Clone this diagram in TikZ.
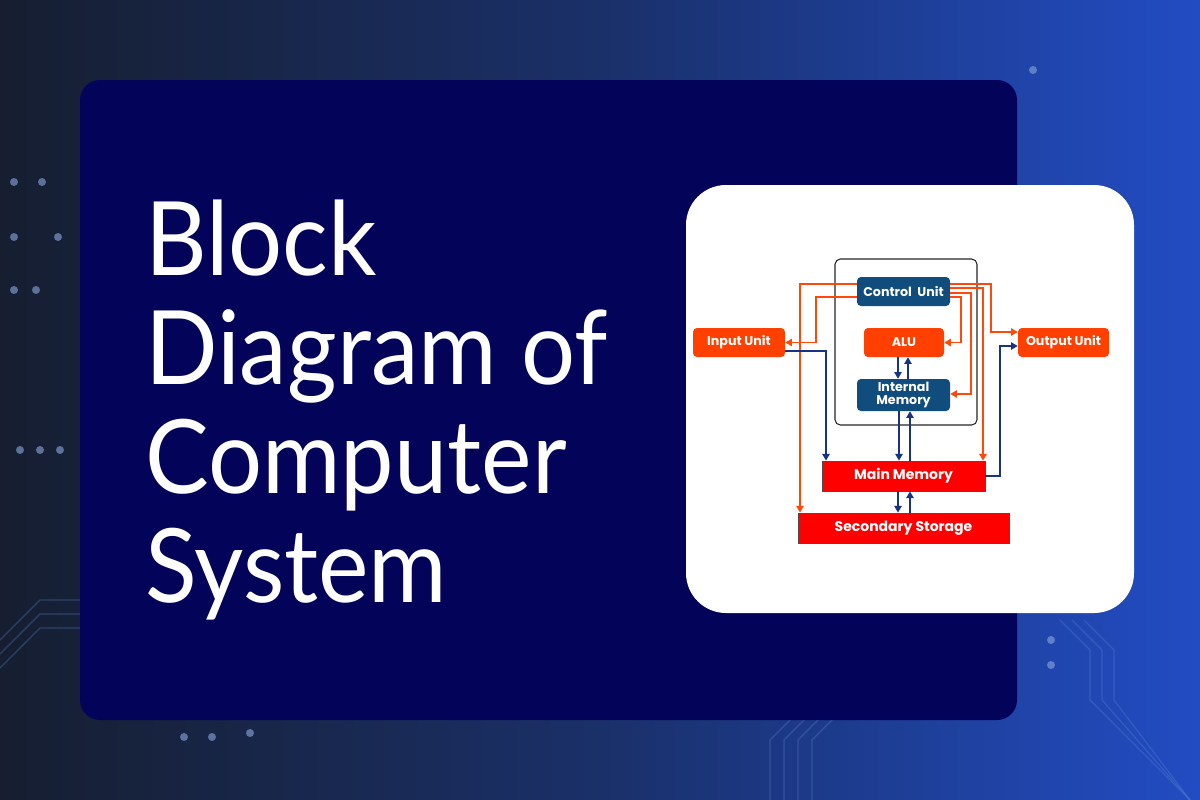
\documentclass[tikz,border=0pt]{standalone}
\usepackage{fontspec}
\setmainfont{Lato}
\newfontfamily\ttlfont{Lato}
\newfontfamily\popp{Poppins}
\usetikzlibrary{arrows.meta,calc}
\definecolor{panel}{RGB}{3,3,90}
\definecolor{bgdark}{RGB}{22,30,48}
\definecolor{bgmid}{RGB}{26,48,105}
\definecolor{bgblue}{RGB}{34,76,195}
\definecolor{cublue}{RGB}{16,76,124}
\definecolor{orng}{RGB}{255,64,0}
\definecolor{lineorng}{RGB}{255,72,10}
\definecolor{lineblue}{RGB}{22,52,130}
\definecolor{mred}{RGB}{255,0,0}
\definecolor{trace}{RGB}{90,130,210}
\tikzset{
  lbl/.style={text=white, font=\popp\bfseries\fontsize{9.5}{11}\selectfont, inner sep=0pt, align=center},
  bluebox/.style={lbl, fill=cublue, rounded corners=3pt},
  orbox/.style={lbl, fill=orng, rounded corners=3pt},
  redbox/.style={lbl, fill=mred, draw=black!70, line width=0.6pt, font=\popp\bfseries\fontsize{10.5}{12}\selectfont},
  oline/.style={draw=lineorng, line width=1.1pt, -{Triangle[length=5pt,width=5.5pt]}},
  bline/.style={draw=lineblue, line width=1.1pt, -{Triangle[length=5pt,width=5.5pt]}},
  title/.style={text=white, font=\ttlfont\fontsize{77}{80}\selectfont, anchor=base west, inner sep=0pt, xscale=0.93},
  trc/.style={draw=trace, line width=0.9pt, opacity=0.35},
  dot/.style={fill=trace!70!white, opacity=0.6}
}
\begin{document}
\begin{tikzpicture}[x=0.75pt,y=-0.75pt]
\useasboundingbox (0,0) rectangle (1200,800);
% background
\shade[left color=bgdark, right color=bgblue, middle color=bgmid] (0,0) rectangle (1200,800);
% faint circuit traces
\foreach \dx in {0,14,28,42} {
  \draw[trc] (770+\dx,800) -- (770+\dx,740) -- (800+\dx,710);
}
\foreach \dx in {0,12,24} {
  \draw[trc] (1060+\dx,620) -- (1090+\dx,650) -- (1090+\dx,700) -- (1190,800);
}
\foreach \dy in {0,14,28} {
  \draw[trc] (0,640+\dy) -- (40,600+\dy) -- (80,600+\dy);
}
\foreach \p in {(14,182),(42,182),(14,237),(58,237),(14,290),(36,290),(20,450),(40,450),(60,450),(184,737),(212,737),(250,733),(1051,640),(1051,665),(1033,70)} {
  \fill[dot] \p circle (4);
}
% panels
\fill[panel, rounded corners=15pt] (80,80) rectangle (1017,720);
\fill[white, rounded corners=30pt] (686,185) rectangle (1134,613);
% title
\node[title] (t1) at (145,275) {Block};
\node[title] (t2) at (145,384) {Diagram of};
\node[title] (t3) at (145,493) {Computer};
\node[title] (t4) at (145,602) {System};
% diagram
\node[draw=black!85, line width=0.8pt, rounded corners=4pt, minimum width=106.5pt, minimum height=124.5pt, inner sep=0pt] (cpu) at (906,342) {};
\node[bluebox, minimum width=69.75pt, minimum height=21.75pt] (cu) at (903.5,291.5) {Control\ \ Unit};
\node[orbox, minimum width=60pt, minimum height=21.75pt] (alu) at (904,342.5) {ALU};
\node[bluebox, minimum width=69.75pt, minimum height=24pt, font=\popp\bfseries\fontsize{9.5}{10}\selectfont] (im) at (903.5,395) {Internal\\Memory};
\node[orbox, minimum width=69pt, minimum height=21.75pt] (ip) at (739,342.5) {Input Unit};
\node[orbox, minimum width=68.25pt, minimum height=21.75pt] (op) at (1063.5,342.5) {Output Unit};
\node[redbox, minimum width=122.25pt, minimum height=22.5pt] (mm) at (903.5,476) {Main Memory};
\node[redbox, minimum width=158.25pt, minimum height=22.5pt] (ss) at (903.5,528) {Secondary Storage};
% orange control lines
\draw[oline] (cu.west |- 0,284) -| (ss.north -| 800,0);
\draw[oline] (cu.west |- 0,297) -| (816,342.5) -- (ip.east);
\draw[oline] (cu.east |- 0,284) -| (991,332) -- (op.west |- 0,332);
\draw[oline] (cu.east |- 0,288) -| (mm.north -| 983,0);
\draw[oline] (cu.east |- 0,293) -| (971,394) -- (im.east |- 0,394);
\draw[oline] (cu.east |- 0,297) -| (961,342.5) -- (alu.east);
% blue data lines
\draw[bline] (ip.east |- 0,351) -| (mm.north -| 826,0);
\draw[bline] (alu.south -| 898,0) -- (im.north -| 898,0);
\draw[bline] (im.north -| 908,0) -- (alu.south -| 908,0);
\draw[bline] (im.south -| 899,0) -- (mm.north -| 899,0);
\draw[bline] (mm.north -| 910,0) -- (im.south -| 910,0);
\draw[bline] (mm.south -| 898,0) -- (ss.north -| 898,0);
\draw[bline] (ss.north -| 910,0) -- (mm.south -| 910,0);
\draw[bline] (mm.east |- 0,476) -| (1000,346) -- (op.west |- 0,346);
\end{tikzpicture}
\end{document}
